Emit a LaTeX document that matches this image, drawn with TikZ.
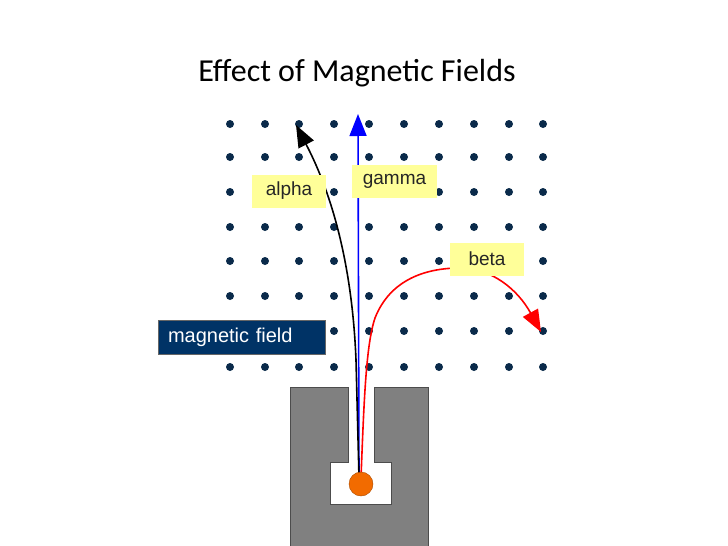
\documentclass[tikz,border=0pt]{standalone}
\usepackage{fontspec}
\setmainfont{Carlito}
\newfontfamily\arialf{Liberation Sans}
\usetikzlibrary{arrows.meta}
\definecolor{dotc}{HTML}{0A2A4A}
\definecolor{fieldc}{HTML}{003366}
\definecolor{labc}{HTML}{FFFF99}
\definecolor{srcc}{HTML}{F26B00}
\tikzset{lab/.style={fill=labc,font=\arialf\fontsize{19}{22}\selectfont,inner sep=0pt,minimum height=33pt,text=black!85},
 ray/.style={line width=1.6pt},
 tip/.style={-{Triangle[length=22pt,width=17pt]}}}
\begin{document}
\begin{tikzpicture}[x=1pt,y=-1pt]
\useasboundingbox (0,0) rectangle (728,546);
\node[font=\fontsize{32}{36}\selectfont] (title) at (357,73) {Effect of Magnetic Fields};
\foreach \x in {230,265,299,334,369,404,439,474,509,543}
 \foreach \y in {124,157,192,227,261,296,331,367}
  \fill[dotc] (\x,\y) circle (4);
% source block
\fill[gray] (290,546) -- (290,387) -- (348,387) -- (348,462) -- (330,462) -- (330,504) -- (391,504) -- (391,462) -- (374,462) -- (374,387) -- (428,387) -- (428,546) -- cycle;
\draw[black!70] (290,546) -- (290,387) -- (348,387) -- (348,462) -- (330,462) -- (330,504) -- (391,504) -- (391,462) -- (374,462) -- (374,387) -- (428,387) -- (428,546);
\coordinate (src) at (359,478);
\coordinate (atip) at (296,125);
\coordinate (gtip) at (358,114);
\coordinate (btip) at (541,332);
\draw[ray,blue,tip] (src) -- (gtip);
\draw[ray,black,tip] (src) -- (356,360) .. controls (352,260) and (330,190) .. (atip);
\draw[ray,red,tip] (361,478) .. controls (364,400) and (366,345) .. (375,318) .. controls (390,280) and (425,268) .. (460,268) .. controls (492,268) and (518,290) .. (btip);
\fill[srcc,draw=srcc!70!black] (361,484) circle (12);
\node[lab,minimum width=74pt] (alpha) at (289,191) {alpha};
\node[lab,minimum width=85pt] (gamma) at (394.5,181) {gamma};
\node[lab,minimum width=74pt] (beta) at (487,259) {beta};
\node[fill=fieldc,text=white,font=\arialf\fontsize{20}{22}\selectfont,text width=147pt,align=left,minimum height=34pt,inner xsep=10pt,inner ysep=0pt,draw=black!60] (field) at (241.5,337) {magnetic field};
\end{tikzpicture}
\end{document}
